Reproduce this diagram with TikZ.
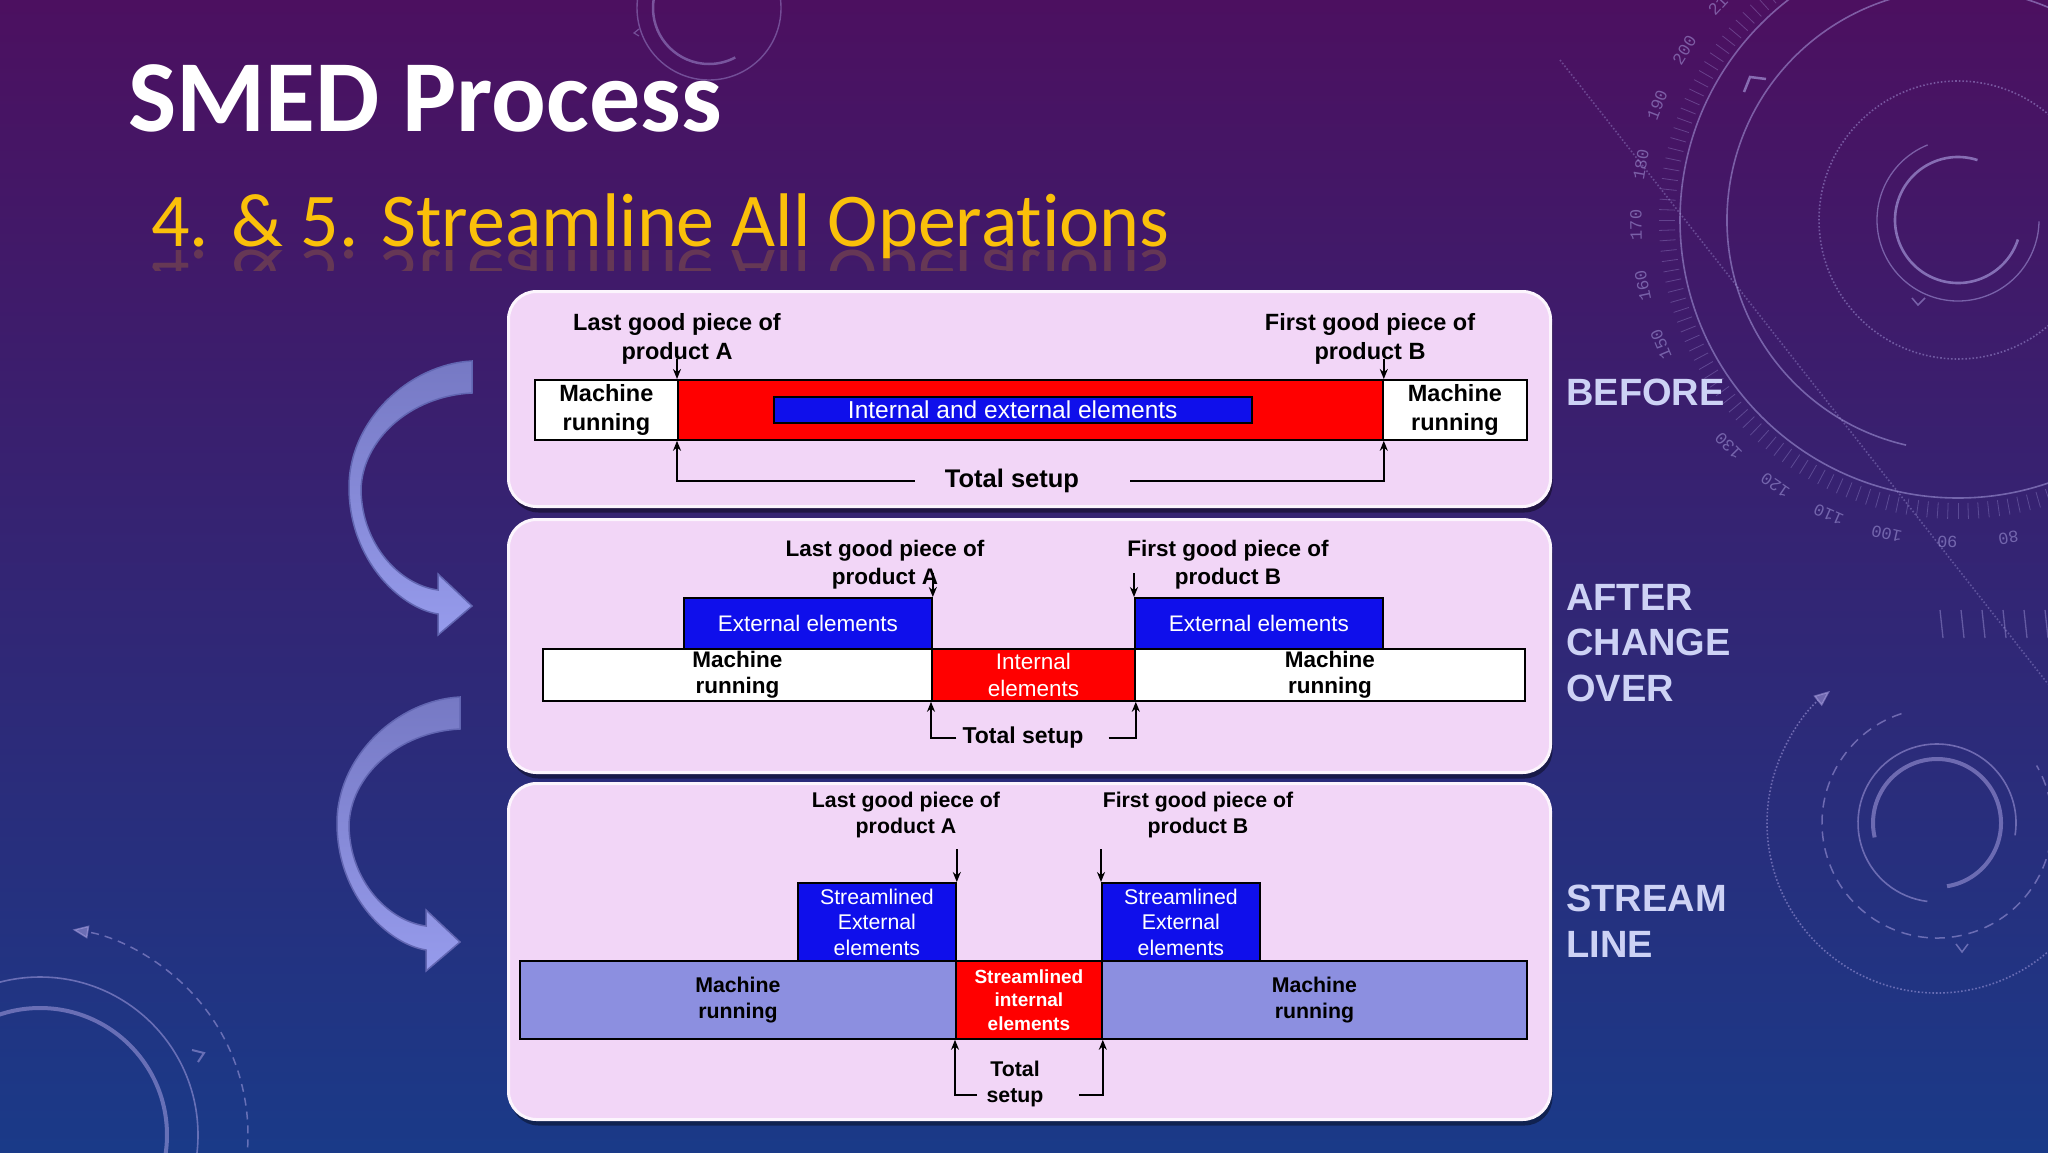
\documentclass[tikz,border=0pt]{standalone}
\usepackage{fontspec}
\setmainfont{Liberation Sans}
\newfontfamily\calib[Ligatures={NoCommon,NoDiscretionary,NoRare,NoContextual}]{Carlito}
\newfontfamily\monof{Liberation Mono}
\usetikzlibrary{arrows.meta,calc,shadows}
\definecolor{bgtop}{RGB}{76,16,96}
\definecolor{bgmid}{RGB}{46,30,112}
\definecolor{bgbot}{RGB}{26,58,136}
\definecolor{panelc}{RGB}{242,214,247}
\definecolor{redc}{RGB}{255,0,0}
\definecolor{bluec}{RGB}{15,15,235}
\definecolor{lavbar}{RGB}{140,143,224}
\definecolor{lavtext}{RGB}{205,210,245}
\definecolor{goldc}{RGB}{250,192,10}
\definecolor{arrtop}{RGB}{118,121,196}
\definecolor{arrbot}{RGB}{150,155,236}
\definecolor{arredge}{RGB}{98,102,178}
\definecolor{deco}{RGB}{178,168,232}
\newcommand{\fs}[2]{\fontsize{#1}{#2}\selectfont}
\tikzset{
  panel/.style={rounded corners=28pt, fill=panelc, draw=white!75!panelc, line width=3pt,
    anchor=north west, inner sep=0pt,
    drop shadow={shadow xshift=2pt, shadow yshift=-6pt, opacity=0.4, fill=black}},
  box/.style={draw=black, line width=1.8pt, inner sep=0pt, align=center, anchor=north west},
  lbl/.style={inner sep=0pt, align=center, text=black},
  arr/.style={line width=1.8pt, -{Stealth[length=10pt,width=8pt]}},
  side/.style={inner sep=0pt, align=left, anchor=west, text=lavtext, font=\fs{38}{45.5}\bfseries},
  decoline/.style={draw=deco, opacity=0.5},
  bigarrow/.style={top color=arrtop, bottom color=arrbot, draw=arredge, line width=1.5pt},
}
\begin{document}
\begin{tikzpicture}[x=1pt,y=-1pt]
\useasboundingbox (0,0) rectangle (2048,1152);
% background
\shade[top color=bgtop, middle color=bgmid, bottom color=bgbot] (0,0) rectangle (2048,1152);

% ---------- decorations ----------
% big gauge
\begin{scope}[shift={(1958,220)}, yscale=-1]
  \draw[decoline, line width=1.6pt] (0,0) circle (278);
  \draw[decoline, line width=1.6pt] (257:231) arc[start angle=257, end angle=-30, radius=231];
  \draw[decoline, dotted, line width=1.6pt, opacity=0.45] (0,0) circle (139);
  \draw[decoline, line width=2.6pt, opacity=0.6] (72:63) arc[start angle=72, end angle=342, radius=63];
  \draw[decoline, line width=1.3pt] (112:81) arc[start angle=112, end angle=359, radius=81];
  \foreach \a in {128,130,...,300} \draw[decoline, line width=0.8pt, opacity=0.3] (\a:283) -- (\a:299);
  \foreach \a in {-60,-55,...,100} \draw[decoline, line width=0.8pt, opacity=0.3] (\a:238) -- (\a:252);
  \foreach \n in {210,200,190,180,170,160,150,130,120,110,100,90,80} {
    \pgfmathsetmacro\ang{170+(180-\n)*1.09}
    \node[font=\monof\fs{17}{17}, text=deco, opacity=0.5, rotate=\ang-90, inner sep=0pt] at (\ang:322) {\n};
  }
\end{scope}
\draw[decoline, line width=2.5pt, opacity=0.6] (1744,92) -- (1750,77) -- (1766,79);
\draw[decoline, line width=1.5pt] (1912,298) -- (1918,305) -- (1925,298);
\draw[decoline, dotted, line width=1.6pt, opacity=0.35] (1560,60) -- (2048,684);
% lower right group
\begin{scope}[shift={(1937,823)}, yscale=-1]
  \draw[decoline, line width=1.6pt] (-9:79) arc[start angle=-9, end angle=263, radius=79];
  \draw[decoline, line width=4pt] (-81:64) arc[start angle=-81, end angle=193, radius=64];
  \draw[decoline, line width=1.5pt, dash pattern=on 10pt off 7pt] (108:115) arc[start angle=108, end angle=390, radius=115];
  \draw[decoline, line width=1.6pt, dotted, -{Triangle[length=16pt,width=13pt]}] (400:170) arc[start angle=400, end angle=129, radius=170];
\end{scope}
\draw[decoline, line width=1.5pt] (1956,944) -- (1962,952) -- (1968,944);
\foreach \x in {1940,1961,1982,2003,2024,2045} \draw[decoline, line width=1.3pt, opacity=0.4] (\x,610) -- (\x+3,638);
% bottom left group
\begin{scope}[shift={(40,1135)}, yscale=-1]
  \draw[decoline, line width=1.6pt] (0,0) circle (158);
  \draw[decoline, line width=4pt] (0,0) circle (127);
  \draw[decoline, line width=1.5pt, dash pattern=on 8pt off 6pt, -{Triangle[length=16pt,width=13pt]}] (-15:208) arc[start angle=-15, end angle=81, radius=208];
\end{scope}
\draw[decoline, line width=2pt] (192,1050) -- (204,1053) -- (198,1062);
% top middle group
\begin{scope}[shift={(709,8)}, yscale=-1]
  \draw[decoline, line width=1.4pt, opacity=0.4] (0,0) circle (72);
  \draw[decoline, line width=2.5pt, opacity=0.45] (90:56) arc[start angle=90, end angle=298, radius=56];
\end{scope}
\draw[decoline, line width=1.2pt, opacity=0.4] (639,29) -- (634,33) -- (639,36);

% ---------- titles ----------
\node[anchor=base west, inner sep=0pt, font=\calib\fs{102}{102}\bfseries, text=white] (title) at (128,131) {SMED Process};
\node[anchor=base west, inner sep=0pt, font=\calib\fs{76}{76}, text=goldc] (sub) at (151,246) {4. \& 5. Streamline All Operations};
\begin{scope}
  \clip (140,248) rectangle (1200,270);
  \node[anchor=base west, inner sep=0pt, font=\calib\fs{76}{76}, text=goldc!80!orange, yscale=-1, transform shape, opacity=0.2] (subrefl) at (151,250) {4. \& 5. Streamline All Operations};
\end{scope}

% ---------- curved arrows ----------
\filldraw[bigarrow] (472,361) .. controls (410,364) and (349,420) .. (349,487)
  .. controls (349,560) and (400,608) .. (438,614) -- (438,635) -- (472,606) -- (438,574) -- (438,590)
  .. controls (400,585) and (362,545) .. (361,490) .. controls (362,440) and (410,396) .. (472,393) -- cycle;
\begin{scope}[shift={(-12,336)}]
\filldraw[bigarrow] (472,361) .. controls (410,364) and (349,420) .. (349,487)
  .. controls (349,560) and (400,608) .. (438,614) -- (438,635) -- (472,606) -- (438,574) -- (438,590)
  .. controls (400,585) and (362,545) .. (361,490) .. controls (362,440) and (410,396) .. (472,393) -- cycle;
\end{scope}

% ---------- panels ----------
\node[panel, minimum width=1042pt, minimum height=215pt] (p1) at (507,290) {};
\node[panel, minimum width=1042pt, minimum height=253pt] (p2) at (507,518) {};
\node[panel, minimum width=1042pt, minimum height=336pt] (p3) at (507,782) {};

% ---------- panel 1: BEFORE ----------
\node[box, fill=white, minimum width=143pt, minimum height=60pt, font=\fs{23.5}{28.5}\bfseries] (m1l) at (534,379) {Machine\\running};
\node[box, fill=redc, minimum width=705pt, minimum height=60pt] (r1) at (677,379) {};
\node[box, fill=white, minimum width=144pt, minimum height=60pt, font=\fs{23.5}{28.5}\bfseries] (m1r) at (1382,379) {Machine\\running};
\node[box, fill=bluec, line width=1.5pt, minimum width=478pt, minimum height=26pt, text=white, font=\fs{24.5}{26}] (b1) at (773,396) {Internal and external elements};
\node[lbl, font=\fs{23.5}{28.5}\bfseries] (la1) at (677,339) {Last good piece of\\product A};
\node[lbl, font=\fs{23.5}{28.5}\bfseries] (lb1) at (1370,339) {First good piece of\\product B};
\draw[arr] ($(r1.north west)+(0,-20)$) -- (r1.north west);
\draw[arr] ($(r1.north east)+(0,-20)$) -- (r1.north east);
\node[lbl, font=\fs{25.5}{30}\bfseries] (ts1) at (1012,481) {Total setup};
\draw[arr] ($(ts1.west)+(-30,0)$) -| (r1.south west);
\draw[arr] ($(ts1.east)+(51,0)$) -| (r1.south east);

% ---------- panel 2: AFTER CHANGE OVER ----------
\node[lbl, font=\fs{22.5}{28}\bfseries] (la2) at (885,565) {Last good piece of\\product A};
\node[lbl, font=\fs{22.5}{28}\bfseries] (lb2) at (1228,565) {First good piece of\\product B};
\node[box, fill=bluec, minimum width=248pt, minimum height=51pt, text=white, font=\fs{22.5}{27}] (e2l) at (683,597) {External elements};
\node[box, fill=bluec, minimum width=248pt, minimum height=51pt, text=white, font=\fs{22.5}{27}] (e2r) at (1134,597) {External elements};
\node[box, fill=white, minimum width=389pt, minimum height=52pt, font=\fs{22.5}{26.5}\bfseries] (m2l) at (542,648) {Machine\\running};
\node[box, fill=redc, minimum width=203pt, minimum height=52pt, text=white, font=\fs{22.5}{26.5}] (i2) at (931,648) {Internal\\elements};
\node[box, fill=white, minimum width=390pt, minimum height=52pt, font=\fs{22.5}{26.5}\bfseries] (m2r) at (1134,648) {Machine\\running};
\draw[arr] ($(e2l.north east)+(0,-24)$) -- (e2l.north east);
\draw[arr] ($(e2r.north west)+(0,-24)$) -- (e2r.north west);
\node[lbl, font=\fs{23}{28}\bfseries] (ts2) at (1023,738) {Total setup};
\draw[arr] ($(ts2.west)+(-6,0)$) -| (i2.south west);
\draw[arr] ($(ts2.east)+(25,0)$) -| (i2.south east);

% ---------- panel 3: STREAM LINE ----------
\node[lbl, font=\fs{21.3}{25.5}\bfseries] (la3) at (906,815) {Last good piece of\\product A};
\node[lbl, font=\fs{21.3}{25.5}\bfseries] (lb3) at (1198,815) {First good piece of\\product B};
\node[box, fill=bluec, minimum width=158pt, minimum height=78pt, text=white, font=\fs{21.3}{25.5}] (s3l) at (797,882) {Streamlined\\External\\elements};
\node[box, fill=bluec, minimum width=158pt, minimum height=78pt, text=white, font=\fs{21.3}{25.5}] (s3r) at (1101,882) {Streamlined\\External\\elements};
\node[box, fill=lavbar, minimum width=436pt, minimum height=78pt, font=\fs{21.3}{25.5}\bfseries] (m3l) at (519,960) {Machine\\running};
\node[box, fill=redc, minimum width=146pt, minimum height=78pt, text=white, font=\fs{19}{23.5}\bfseries] (i3) at (955,960) {Streamlined\\internal\\elements};
\node[box, fill=lavbar, minimum width=425pt, minimum height=78pt, font=\fs{21.3}{25.5}\bfseries] (m3r) at (1101,960) {Machine\\running};
\draw[arr] ($(s3l.north east)+(0,-33)$) -- (s3l.north east);
\draw[arr] ($(s3r.north west)+(0,-33)$) -- (s3r.north west);
\node[lbl, font=\fs{21.3}{26}\bfseries] (ts3) at (1015,1084) {Total\\setup};
\coordinate (t3a) at ($(i3.south west)+(22,55)$);
\coordinate (t3b) at ($(i3.south east)+(-24,55)$);
\draw[arr] (t3a) -| (i3.south west);
\draw[arr] (t3b) -| (i3.south east);

% ---------- side labels ----------
\node[side] (before) at (1566,392) {BEFORE};
\node[side] (after) at (1566,643) {AFTER\\CHANGE\\OVER};
\node[side] (stream) at (1566,921) {STREAM\\LINE};
\end{tikzpicture}
\end{document}
